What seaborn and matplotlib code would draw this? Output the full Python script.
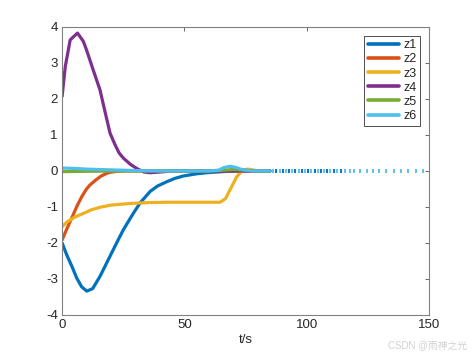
import matplotlib
matplotlib.use("Agg")
import matplotlib.pyplot as plt
import pandas as pd
import seaborn as sns

# values (t in s)
t_z1 = [0, 2, 4, 6, 8, 10.1, 12.5, 15.5, 18.2, 22.3, 25, 29.1, 32, 36, 39, 42.8, 46, 49.6, 55, 59, 63.3, 68, 75, 85]
z1 = [-2.0, -2.35, -2.65, -2.98, -3.22, -3.34, -3.27, -2.93, -2.56, -2.0, -1.64, -1.18, -0.88, -0.57, -0.42, -0.30, -0.21, -0.14, -0.08, -0.05, -0.03, -0.01, 0.0, 0.0]

t_z2 = [0, 2, 4, 6, 8, 10, 11.4, 14, 16, 18.3, 20, 22.4, 26, 35, 85]
z2 = [-1.92, -1.6, -1.3, -0.99, -0.72, -0.5, -0.39, -0.24, -0.14, -0.065, -0.035, -0.01, 0.0, 0.0, 0.0]

t_z3 = [0, 2, 5, 8.7, 12, 15.5, 20, 25, 29, 35, 43, 55, 64.6, 66.8, 69, 71.4, 74, 76, 78, 80, 85]
z3 = [-1.55, -1.42, -1.29, -1.18, -1.08, -1.01, -0.95, -0.92, -0.90, -0.88, -0.87, -0.87, -0.87, -0.77, -0.48, -0.16, 0.03, 0.05, 0.03, 0.0, 0.0]

t_z4 = [0, 1.3, 3.3, 5, 6.3, 8.7, 10, 12.5, 15.5, 17.5, 19.6, 21.5, 23.3, 25, 28, 30.5, 33.4, 36, 40, 45, 85]
z4 = [2.07, 2.9, 3.64, 3.75, 3.83, 3.6, 3.36, 2.85, 2.25, 1.66, 1.05, 0.75, 0.5, 0.36, 0.18, 0.07, -0.03, -0.05, -0.03, 0.0, 0.0]

t_z5 = [0, 10, 30, 60, 66, 70, 74, 78, 85]
z5 = [-0.02, -0.01, 0.0, 0.0, 0.02, 0.04, 0.03, 0.0, 0.0]

t_z6 = [0, 5, 10, 20, 30, 40, 60, 64, 66, 68.7, 71, 73, 75, 78, 85]
z6 = [0.08, 0.07, 0.05, 0.03, 0.01, 0.0, 0.0, 0.02, 0.09, 0.13, 0.10, 0.05, 0.02, 0.0, 0.0]

# sparse steps at the end, drawn as small dashes
t_tail = [85, 86.3, 87.6, 88.9, 90.2, 91.5, 92.8, 94.1, 95.4, 96.7, 98, 99.3, 100.6,
          101.9, 103.2, 104.5, 105.8, 107.1, 108.4, 109.7, 111, 112.5, 114, 115.8,
          117.6, 119.5, 122, 124.5, 127, 129.5, 132.5, 135.5, 138.5, 141.5, 144.5, 147.5]
tail_val = [0.0] * len(t_tail)

names = ["z1", "z2", "z3", "z4", "z5", "z6"]
colors = ["#0072BD", "#D95319", "#EDB120", "#7E2F8E", "#77AC30", "#4DBEEE"]
series = [(t_z1, z1), (t_z2, z2), (t_z3, z3), (t_z4, z4), (t_z5, z5), (t_z6, z6)]

sns.set_style("white")
plt.rcParams["font.family"] = ["Liberation Sans", "Noto Sans CJK SC", "DejaVu Sans"]
plt.rcParams["axes.unicode_minus"] = False

fig = plt.figure(figsize=(4.74, 3.55), dpi=100)
ax = fig.add_axes([0.131, 0.113, 0.774, 0.811])

for name, col, (t, v) in zip(names, colors, series):
    df = pd.DataFrame({"t": t, "v": v})
    sns.lineplot(data=df, x="t", y="v", ax=ax, color=col, lw=2.3, label=name)

tail = pd.DataFrame({"t": t_tail, "v": tail_val})
sns.scatterplot(data=tail, x="t", y="v", ax=ax, marker="|", s=12, linewidth=1.3,
                color=colors[5], legend=False)
sns.scatterplot(data=tail.iloc[:24:2], x="t", y="v", ax=ax, marker="|", s=10, linewidth=1.3,
                color=colors[0], legend=False)

ax.set_xlim(0, 150)
ax.set_ylim(-4, 4)
ax.set_xticks([0, 50, 100, 150])
ax.set_yticks(range(-4, 5))
ax.set_xlabel("t/s", fontsize=9.5, color="#262626", labelpad=2)
ax.set_ylabel("")
ax.tick_params(direction="in", top=True, right=True, length=3, width=0.6,
               colors="#4d4d4d", labelcolor="#262626", labelsize=9.5, pad=3)
for sp in ax.spines.values():
    sp.set_color("#808080")
    sp.set_linewidth(0.8)

leg = ax.legend(loc="upper right", bbox_to_anchor=(0.976, 0.97), fontsize=9,
                handlelength=2.5, handletextpad=0.3, labelspacing=0.17,
                borderpad=0.3, borderaxespad=0, fancybox=False, framealpha=1)
leg.get_frame().set_edgecolor("#333333")
leg.get_frame().set_linewidth(0.6)
for line in leg.get_lines():
    line.set_linewidth(2.6)

fig.text(0.985, 0.015, "CSDN @雨神之光", ha="right", va="bottom", fontsize=7,
         color="#d0d0d0")

fig.savefig("out.png", dpi=100, facecolor="white")
